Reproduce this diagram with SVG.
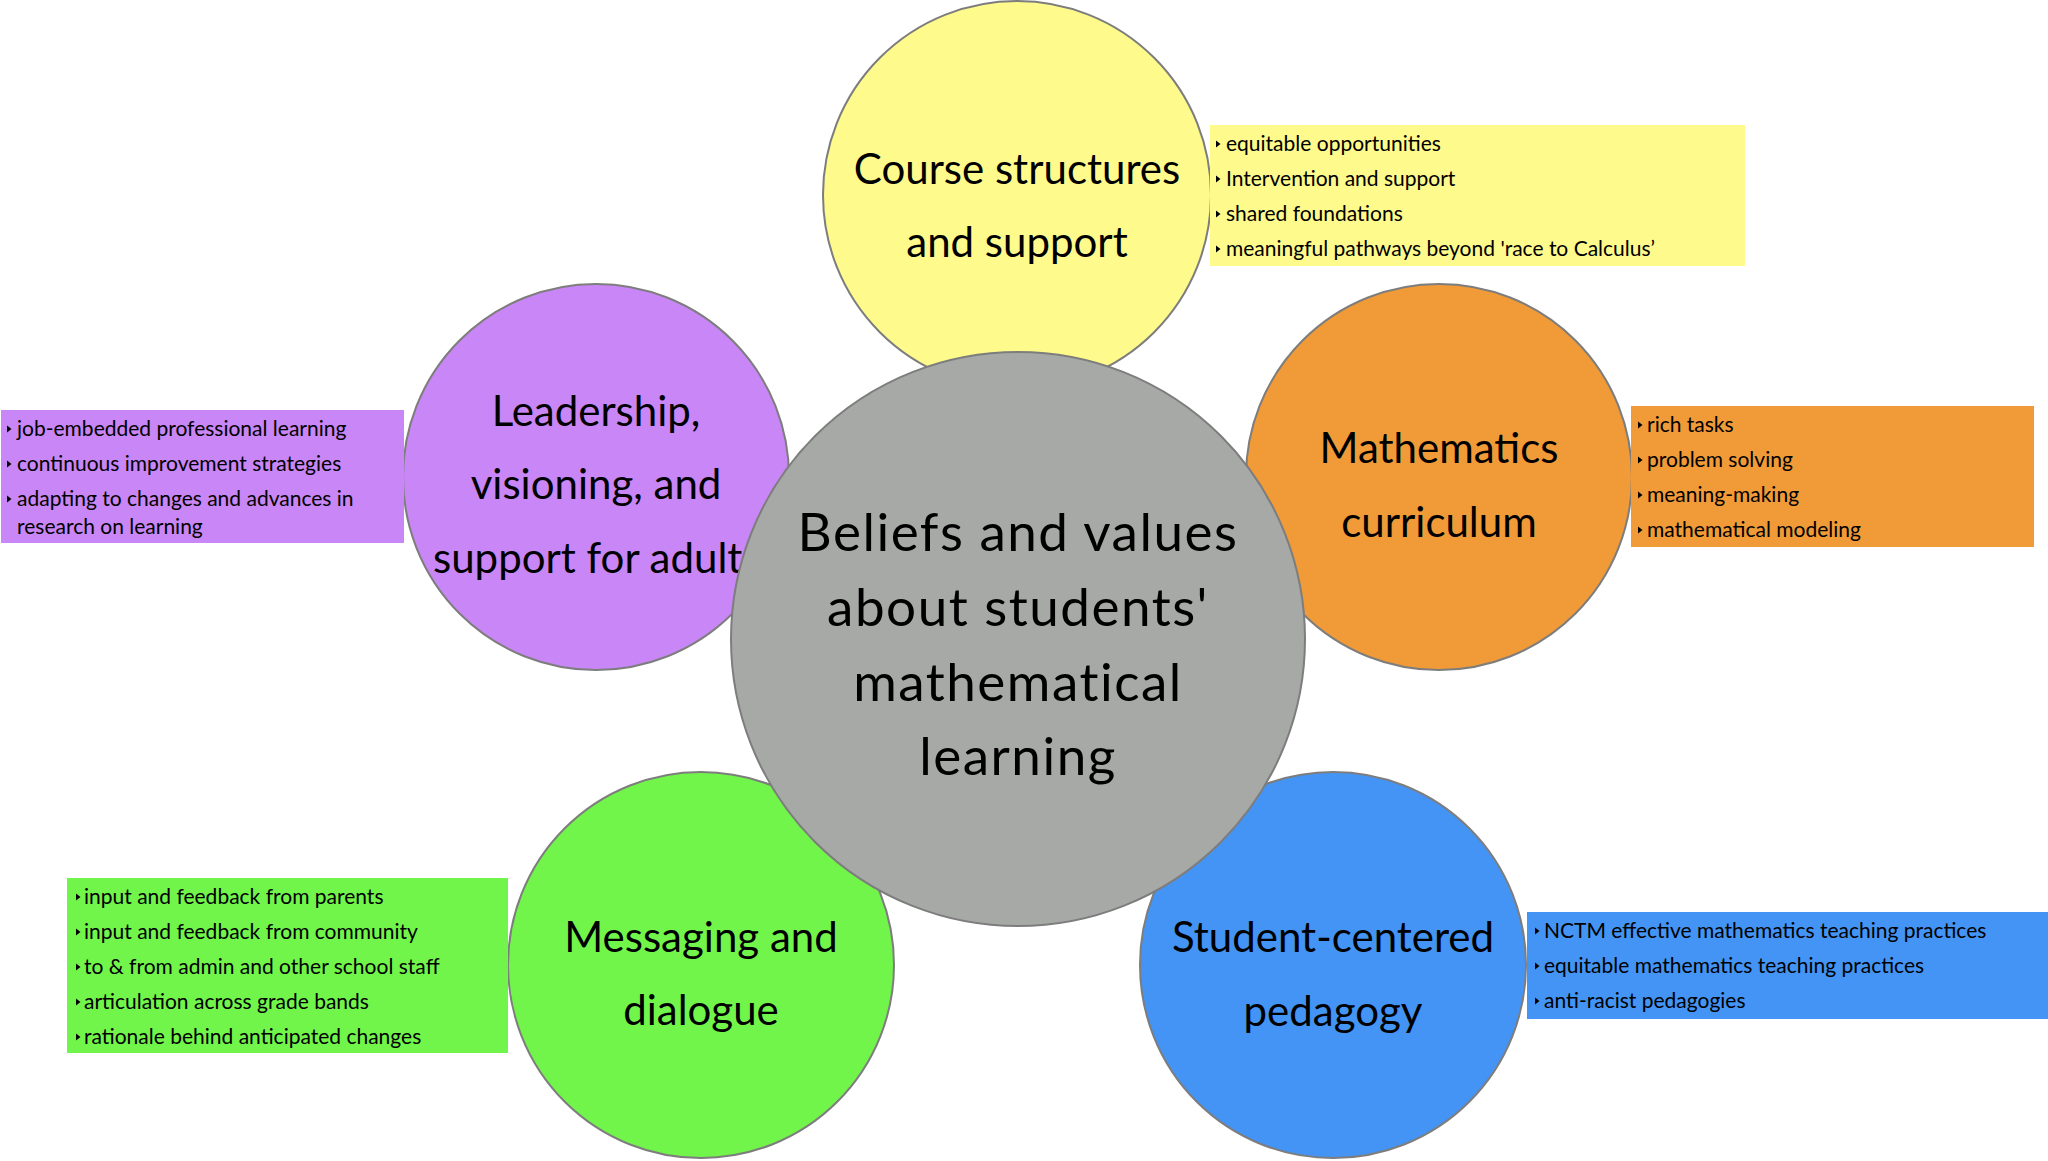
<svg xmlns="http://www.w3.org/2000/svg" width="2048" height="1161" viewBox="0 0 2048 1161">
<style>
.c{stroke:#7d7d7d;stroke-width:2}
.t{font-family:Lato,"Liberation Sans",sans-serif;font-size:42px;fill:#000;text-anchor:middle}
.tc{font-family:Lato,"Liberation Sans",sans-serif;font-size:53px;letter-spacing:1.5px;fill:#000;text-anchor:middle}
.s{font-family:Lato,"Liberation Sans",sans-serif;font-size:21px;fill:#000}
</style>
<defs>
<polygon id="bul" points="0,-3.5 4.5,0 0,3.5"/>
</defs>
<rect width="2048" height="1161" fill="#fff"/>
<g id="course">
<circle class="c" cx="1017" cy="195" r="194" fill="#FEFA8B"/>
<text class="t" x="1017" y="184">Course structures</text>
<text class="t" x="1017" y="257">and support</text>
</g>
<g id="course-list">
<rect x="1210" y="125" width="535" height="141" fill="#FEFA8B"/>
<use href="#bul" x="1216" y="144"/><text class="s" x="1226" y="151">equitable opportunities</text>
<use href="#bul" x="1216" y="179"/><text class="s" x="1226" y="186">Intervention and support</text>
<use href="#bul" x="1216" y="214"/><text class="s" x="1226" y="221">shared foundations</text>
<use href="#bul" x="1216" y="249"/><text class="s" x="1226" y="256">meaningful pathways beyond 'race to Calculus’</text>
</g>
<g id="leadership">
<circle class="c" cx="596" cy="477" r="193" fill="#C986F6"/>
<text class="t" x="596" y="426">Leadership,</text>
<text class="t" x="596" y="499">visioning, and</text>
<text class="t" x="433" y="573" style="text-anchor:start">support for adult</text>
</g>
<g id="leadership-list">
<rect x="1" y="410" width="403" height="133" fill="#C986F6"/>
<use href="#bul" x="7" y="429"/><text class="s" x="17" y="436">job-embedded professional learning</text>
<use href="#bul" x="7" y="464"/><text class="s" x="17" y="471">continuous improvement strategies</text>
<use href="#bul" x="7" y="499"/><text class="s" x="17" y="506">adapting to changes and advances in</text>
<text class="s" x="17" y="534">research on learning</text>
</g>
<g id="curriculum">
<circle class="c" cx="1439" cy="477" r="193" fill="#F09A38"/>
<text class="t" x="1439" y="463">Mathematics</text>
<text class="t" x="1439" y="537">curriculum</text>
</g>
<g id="curriculum-list">
<rect x="1631" y="406" width="403" height="141" fill="#F09A38"/>
<use href="#bul" x="1638" y="425"/><text class="s" x="1647" y="432">rich tasks</text>
<use href="#bul" x="1638" y="460"/><text class="s" x="1647" y="467">problem solving</text>
<use href="#bul" x="1638" y="495"/><text class="s" x="1647" y="502">meaning-making</text>
<use href="#bul" x="1638" y="530"/><text class="s" x="1647" y="537">mathematical modeling</text>
</g>
<g id="messaging">
<circle class="c" cx="701" cy="965" r="193" fill="#72F54A"/>
<text class="t" x="701" y="952">Messaging and</text>
<text class="t" x="701" y="1025">dialogue</text>
</g>
<g id="messaging-list">
<rect x="67" y="878" width="441" height="175" fill="#72F54A"/>
<use href="#bul" x="76" y="897"/><text class="s" x="84" y="904">input and feedback from parents</text>
<use href="#bul" x="76" y="932"/><text class="s" x="84" y="939">input and feedback from community</text>
<use href="#bul" x="76" y="967"/><text class="s" x="84" y="974">to &amp; from admin and other school staff</text>
<use href="#bul" x="76" y="1002"/><text class="s" x="84" y="1009">articulation across grade bands</text>
<use href="#bul" x="76" y="1037"/><text class="s" x="84" y="1044">rationale behind anticipated changes</text>
</g>
<g id="pedagogy">
<circle class="c" cx="1333" cy="965" r="193" fill="#4394F5"/>
<text class="t" x="1333" y="952">Student-centered</text>
<text class="t" x="1333" y="1026">pedagogy</text>
</g>
<g id="pedagogy-list">
<rect x="1527" y="912" width="521" height="107" fill="#4394F5"/>
<use href="#bul" x="1535" y="931"/><text class="s" x="1544" y="938">NCTM effective mathematics teaching practices</text>
<use href="#bul" x="1535" y="966"/><text class="s" x="1544" y="973">equitable mathematics teaching practices</text>
<use href="#bul" x="1535" y="1001"/><text class="s" x="1544" y="1008">anti-racist pedagogies</text>
</g>
<g id="beliefs">
<circle class="c" cx="1018" cy="639" r="287" fill="#A7A9A7"/>
<text class="tc" x="1018" y="551">Beliefs and values</text>
<text class="tc" x="1018" y="626">about students'</text>
<text class="tc" x="1018" y="701">mathematical</text>
<text class="tc" x="1018" y="775">learning</text>
</g>
<g id="connectors"></g>
</svg>
